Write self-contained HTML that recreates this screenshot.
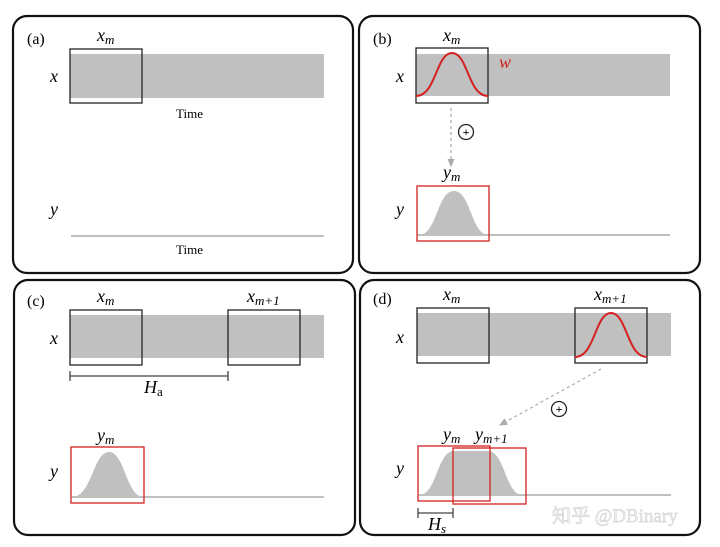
<!DOCTYPE html>
<html><head><meta charset="utf-8"><style>
html,body{margin:0;padding:0;background:#fff;}
svg{display:block;}
text{font-family:"Liberation Serif",serif;}
.it{font-style:italic;font-size:18px;}
</style></head><body>
<svg width="720" height="547" viewBox="0 0 720 547">
<defs>
<marker id="ah" markerWidth="8" markerHeight="8" refX="6" refY="4" orient="auto"><path d="M0,1 L7,4 L0,7 z" fill="#aaa"/></marker>
</defs>
<g fill="none" stroke="#111" stroke-width="2.2">
<rect x="13" y="16" width="340" height="257" rx="14"/>
<rect x="359" y="16" width="341" height="257" rx="14"/>
<rect x="14" y="280" width="341" height="255" rx="14"/>
<rect x="360" y="280" width="340" height="255" rx="14"/>
</g>
<!-- (a) -->
<text x="27" y="44" font-size="16">(a)</text>
<rect x="70" y="54" width="254" height="44" fill="#c0c0c0"/>
<rect x="70" y="49" width="72" height="54" fill="none" stroke="#222" stroke-width="1.3"/>
<text x="97" y="41" class="it">x<tspan font-size="13" dy="3">m</tspan></text>
<text x="50" y="82" class="it">x</text>
<text x="176" y="118" font-size="13">Time</text>
<text x="50" y="215" class="it">y</text>
<line x1="71" y1="236" x2="324" y2="236" stroke="#c0c0c0" stroke-width="2"/>
<text x="176" y="254" font-size="13">Time</text>
<!-- (b) -->
<text x="373" y="44" font-size="16">(b)</text>
<rect x="416" y="54" width="254" height="42" fill="#c0c0c0"/>
<rect x="416" y="48" width="72" height="55" fill="none" stroke="#222" stroke-width="1.3"/>
<path d="M416,96 C436,96 436,53 452,53 C468,53 468,96 488,96" fill="none" stroke="#d42020" stroke-width="2"/>
<text x="499" y="68" class="it" fill="#d42020">w</text>
<text x="443" y="41" class="it">x<tspan font-size="13" dy="3">m</tspan></text>
<text x="396" y="82" class="it">x</text>
<line x1="451" y1="108" x2="451" y2="166" stroke="#aaa" stroke-width="1.2" stroke-dasharray="3,3" marker-end="url(#ah)"/>
<circle cx="466" cy="132" r="7.5" fill="none" stroke="#222" stroke-width="1.3"/><text x="466" y="136" font-size="12" text-anchor="middle" font-weight="bold">+</text>
<text x="443" y="178" class="it">y<tspan font-size="13" dy="3">m</tspan></text>
<text x="396" y="215" class="it">y</text>
<line x1="417" y1="235" x2="670" y2="235" stroke="#c0c0c0" stroke-width="2"/>
<path d="M419,235 C437,235 437,191 454,191 C471,191 471,235 489,235 z" fill="#c0c0c0"/>
<rect x="417" y="186" width="72" height="55" fill="none" stroke="#d42020" stroke-width="1.3"/>
<!-- (c) -->
<text x="27" y="306" font-size="16">(c)</text>
<rect x="70" y="315" width="254" height="43" fill="#c0c0c0"/>
<rect x="70" y="310" width="72" height="55" fill="none" stroke="#222" stroke-width="1.3"/>
<rect x="228" y="310" width="72" height="55" fill="none" stroke="#222" stroke-width="1.3"/>
<text x="97" y="302" class="it">x<tspan font-size="13" dy="3">m</tspan></text>
<text x="247" y="302" class="it">x<tspan font-size="13" dy="3">m+1</tspan></text>
<text x="50" y="344" class="it">x</text>
<path d="M70,371 V381 M70,376 H228 M228,371 V381" stroke="#444" stroke-width="1.3" fill="none"/>
<text x="144" y="393" class="it">H<tspan font-size="13" dy="3" font-style="normal">a</tspan></text>
<text x="97" y="441" class="it">y<tspan font-size="13" dy="3">m</tspan></text>
<text x="50" y="477" class="it">y</text>
<line x1="72" y1="497" x2="324" y2="497" stroke="#c0c0c0" stroke-width="2"/>
<path d="M72,497 C92,497 93,452 109,452 C125,452 126,497 144,497 z" fill="#c0c0c0"/>
<rect x="71" y="447" width="73" height="56" fill="none" stroke="#d42020" stroke-width="1.3"/>
<!-- (d) -->
<text x="373" y="304" font-size="16">(d)</text>
<rect x="417" y="313" width="254" height="43" fill="#c0c0c0"/>
<rect x="417" y="308" width="72" height="55" fill="none" stroke="#222" stroke-width="1.3"/>
<rect x="575" y="308" width="72" height="55" fill="none" stroke="#222" stroke-width="1.3"/>
<path d="M575,357 C595,357 595,313 611,313 C627,313 627,357 647,357" fill="none" stroke="#d42020" stroke-width="2"/>
<text x="443" y="300" class="it">x<tspan font-size="13" dy="3">m</tspan></text>
<text x="594" y="300" class="it">x<tspan font-size="13" dy="3">m+1</tspan></text>
<text x="396" y="343" class="it">x</text>
<line x1="601" y1="369" x2="500" y2="425" stroke="#aaa" stroke-width="1.2" stroke-dasharray="3,3" marker-end="url(#ah)"/>
<circle cx="559" cy="409" r="7.5" fill="none" stroke="#222" stroke-width="1.3"/><text x="559" y="413" font-size="12" text-anchor="middle" font-weight="bold">+</text>
<text x="443" y="440" class="it">y<tspan font-size="13" dy="3">m</tspan></text>
<text x="475" y="440" class="it">y<tspan font-size="13" dy="3">m+1</tspan></text>
<text x="396" y="474" class="it">y</text>
<line x1="419" y1="495" x2="671" y2="495" stroke="#c0c0c0" stroke-width="2"/>
<path d="M419,495 C437,495 437,451 454,451 L488,451 C505,451 505,495 523,495 z" fill="#c0c0c0"/>
<rect x="418" y="446" width="72" height="55" fill="none" stroke="#d42020" stroke-width="1.3"/>
<rect x="453" y="448" width="73" height="56" fill="none" stroke="#d42020" stroke-width="1.3"/>
<path d="M418,508 V518 M418,513 H453 M453,508 V518" stroke="#444" stroke-width="1.3" fill="none"/>
<text x="428" y="530" class="it">H<tspan font-size="13" dy="3">s</tspan></text>
<text x="552" y="522" font-size="19" fill="#ececec" stroke="#c8c8c8" stroke-width="0.4" font-family="'Liberation Sans','Noto Sans CJK SC',sans-serif">知乎 @DBinary</text>
</svg>
</body></html>
